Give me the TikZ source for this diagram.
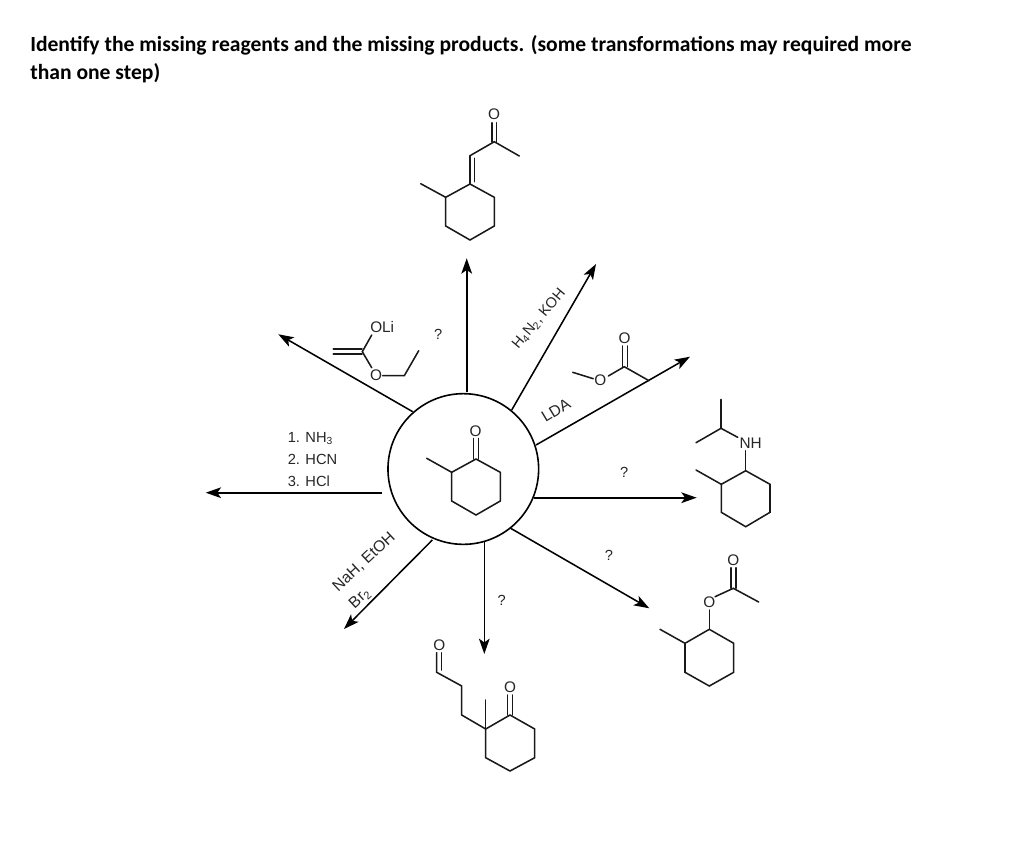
\documentclass[tikz,border=0pt]{standalone}
\usepackage{fontspec}
\setmainfont{Liberation Sans}
\newfontfamily\titlefont{Carlito}[BoldFont={Carlito Bold}]
\usetikzlibrary{arrows.meta}
\tikzset{
  x=0.75pt,y=-0.75pt,
  bond/.style={line width=1.15pt,line join=miter,line cap=round,draw=black!90},
  rxn/.style={line width=1.15pt,draw=black,-{Stealth[length=11.5pt,width=8pt,inset=2.8pt]}},
  rxnb/.style={rxn,line width=1.5pt},
  atom/.style={inner sep=0pt,font=\fontsize{11.5}{13}\selectfont,text=black!85},
  lab/.style={inner sep=0pt,font=\fontsize{11}{13}\selectfont,text=black!85},
  labr/.style={inner sep=0pt,font=\fontsize{11.8}{13}\selectfont,text=black!85},
  head/.style={inner sep=0pt,anchor=base west,font=\titlefont\bfseries\fontsize{16.2}{19}\selectfont}
}
\begin{document}
\begin{tikzpicture}
\useasboundingbox (0,0) rectangle (1024,840);
% title
\node[head] (t1) at (30,51) {Identify the missing reagents and the missing products. (some transformations may required more};
\node[head] (t2) at (30,79.5) {than one step)};
% central substrate
\node[circle,draw,line width=1.2pt,minimum size=113pt,inner sep=0pt] (hub) at (463.3,469) {};
\draw[bond] (451.7,472.3) -- (476,459) -- (500.3,472.3) -- (500.3,501) -- (476,515) -- (451.7,501) -- cycle;
\draw[bond] (426.7,458.3) -- (451.7,472.3);
\draw[bond] (473.3,459) -- (473.3,438.5) (478.3,459) -- (478.3,438.5);
\node[atom] (o0) at (475.7,431) {O};
% arrow ends
\coordinate (aN0) at (466.7,391.7); \coordinate (aN1) at (466.7,258.3);
\coordinate (aH0) at (511.7,410);   \coordinate (aH1) at (596,264);
\coordinate (aL0) at (536,445);     \coordinate (aL1) at (690,356.7);
\coordinate (aE0) at (534.3,497.7); \coordinate (aE1) at (696.7,497.7);
\coordinate (aS0) at (510.7,528.3); \coordinate (aS1) at (649.3,608.3);
\coordinate (aD0) at (484.3,541.7); \coordinate (aD1) at (484.3,654);
\coordinate (aB0) at (432.3,540);   \coordinate (aB1) at (344,629);
\coordinate (aW0) at (381.7,492.7); \coordinate (aW1) at (205.7,492.7);
\coordinate (aU0) at (412.7,411.7); \coordinate (aU1) at (278.3,334.3);
\draw[rxnb] (aN0) -- (aN1);
\draw[rxn] (aH0) -- (aH1);
\draw[rxn] (aL0) -- (aL1);
\draw[rxnb] (aE0) -- (aE1);
\draw[rxn] (aS0) -- (aS1);
\draw[rxn] (aD0) -- (aD1);
\draw[rxn] (aB0) -- (aB1);
\draw[rxnb] (aW0) -- (aW1);
\draw[rxn] (aU0) -- (aU1);
% labels
\node[lab] (q1) at (438.3,334) {?};
\node[lab] (q2) at (624.3,472.3) {?};
\node[lab] (q3) at (609,555.7) {?};
\node[lab] (q4) at (501.7,600.7) {?};
\node[lab,rotate=50] (l1) at (539,319) {H\textsubscript{4}N\textsubscript{2}, KOH};
\node[labr,rotate=31] (l2) at (556,410) {LDA};
\node[labr,rotate=43] (l3) at (364,562) {NaH, EtOH};
\node[labr,rotate=43] (l4) at (360,598.3) {Br\textsubscript{2}};
\node[lab,anchor=base west] (l5) at (287.5,442.5) {1. NH\textsubscript{3}};
\node[lab,anchor=base west] (l6) at (287.5,464) {2. HCN};
\node[lab,anchor=base west] (l7) at (287.5,486) {3. HCl};
% top product
\draw[bond] (445.7,197.3) -- (470,184) -- (494.3,197.3) -- (494.3,226) -- (470,240) -- (445.7,226) -- cycle;
\draw[bond] (420.7,183.7) -- (445.7,197.3);
\draw[bond] (470,184) -- (470,155.7) -- (494.3,141.7) -- (519.3,156);
\draw[bond] (474.7,158.3) -- (474.7,181.7);
\draw[bond] (492,142) -- (492,122.7) (496.7,142) -- (496.7,122.7);
\node[atom] (o1) at (494,114) {O};
% enolate reagent
\node[atom,anchor=west] (oli) at (370,327.3) {OLi};
\node[atom] (o2) at (376,375.7) {O};
\draw[bond] (333.3,349.2) -- (362,349.2) (333.3,354.2) -- (362,354.2);
\draw[bond] (371.7,335) -- (362.3,351.7) -- (371.7,367.7);
\draw[bond] (382.7,375.7) -- (404.3,375.7) -- (418.7,350.7);
% methyl ester
\node[atom] (o3) at (600.3,380.3) {O};
\node[atom] (o4) at (624.7,338.7) {O};
\draw[bond] (572.7,372.3) -- (593.3,378.7);
\draw[bond] (608.3,376) -- (624.3,366.7) -- (649,380.7);
\draw[bond] (622.3,366.7) -- (622.3,346) (627.3,366.7) -- (627.3,346);
% amine
\node[atom] (nh) at (750.7,443.3) {NH};
\draw[bond] (721,399.3) -- (721,428.3) -- (696,442.7);
\draw[bond] (721,428.3) -- (737.7,437.3);
\draw[bond] (745.7,450.7) -- (745.7,470.7);
\draw[bond] (721.3,484.3) -- (745.7,470.7) -- (770,484.3) -- (770,512.3) -- (745.7,526.7) -- (721.3,512.3) -- cycle;
\draw[bond] (696,470) -- (721.3,484.3);
% acetate
\node[atom] (o5) at (709.3,602) {O};
\node[atom] (o6) at (733.3,560) {O};
\draw[bond] (715,596.7) -- (733.3,588.3) -- (758.7,602);
\draw[bond] (731,588.3) -- (731,567.7) (736,588.3) -- (736,567.7);
\draw[bond] (709.3,610) -- (709.3,629.3);
\draw[bond] (685,643.3) -- (709.3,629.3) -- (733.7,643.3) -- (733.7,672.3) -- (709.3,686) -- (685,672.3) -- cycle;
\draw[bond] (660,629.3) -- (685,643.3);
% bottom product
\node[atom] (o7) at (439.3,645.7) {O};
\node[atom] (o8) at (510,687.3) {O};
\draw[bond] (436.7,652.7) -- (436.7,672.3) -- (461.7,686) -- (461.7,715) -- (485.7,729);
\draw[bond] (441.7,652.7) -- (441.7,670);
\draw[bond] (485.7,729) -- (510,715) -- (534.7,729) -- (534.7,757.7) -- (510,771) -- (485.7,757.7) -- cycle;
\draw[bond] (485.7,700) -- (485.7,729);
\draw[bond] (507.7,715) -- (507.7,695) (512.3,715) -- (512.3,695);
\end{tikzpicture}
\end{document}
